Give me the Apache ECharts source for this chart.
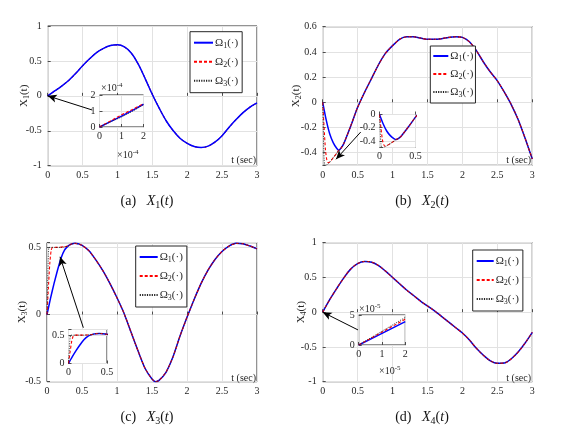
<!DOCTYPE html>
<html><head><meta charset="utf-8">
<script src="https://cdn.jsdelivr.net/npm/echarts@6/dist/echarts.min.js"></script>
<style>html,body{margin:0;padding:0;background:#fff}#c{width:582px;height:432px}</style>
</head><body><div id="c"></div>
<script>
// ---------- data ----------
const T31 = [0,0.1,0.2,0.3,0.4,0.5,0.6,0.7,0.8,0.9,1,1.1,1.2,1.3,1.4,1.5,1.6,1.7,1.8,1.9,2,2.1,2.2,2.3,2.4,2.5,2.6,2.7,2.8,2.9,3];
// X1(t): the three controllers overlap on the main scale
const X1 = [0,0.07,0.14,0.22,0.32,0.43,0.53,0.62,0.68,0.72,0.73,0.70,0.61,0.45,0.24,0.02,-0.18,-0.36,-0.50,-0.61,-0.68,-0.725,-0.74,-0.72,-0.66,-0.57,-0.45,-0.34,-0.24,-0.16,-0.10];
const X1_in_t  = [0,0.5e-4,1e-4,1.5e-4,2e-4];
const X1_in_O1 = [0,0.34e-4,0.68e-4,1.04e-4,1.42e-4];
const X1_in_O2 = [0,0.38e-4,0.76e-4,1.10e-4,1.46e-4];
const X1_in_O3 = [0,0.33e-4,0.62e-4,0.98e-4,1.40e-4];
// X2(t): different initial transients, common tail
const X2_O1_t = [0,0.05,0.1,0.15,0.2,0.23,0.26];
const X2_O1_v = [0,-0.14,-0.25,-0.32,-0.365,-0.38,-0.365];
const X2_O2_t = [0,0.02,0.04,0.06,0.08,0.1,0.15,0.2,0.23,0.26];
const X2_O2_v = [0,-0.2,-0.38,-0.46,-0.48,-0.475,-0.44,-0.405,-0.38,-0.365];
const X2_O3_t = [0,0.01,0.02,0.03,0.05,0.08,0.1,0.15,0.2,0.23,0.26];
const X2_O3_v = [0,-0.25,-0.45,-0.5,-0.5,-0.485,-0.475,-0.44,-0.405,-0.38,-0.365];
const X2_tail_t = [0.3,0.4,0.5,0.6,0.7,0.8,0.9,1,1.1,1.2,1.3,1.4,1.5,1.6,1.7,1.8,1.9,2,2.1,2.2,2.3,2.4,2.5,2.6,2.7,2.8,2.9,3];
const X2_tail_v = [-0.33,-0.19,-0.04,0.08,0.19,0.3,0.39,0.45,0.5,0.52,0.52,0.51,0.5,0.5,0.505,0.515,0.52,0.515,0.48,0.41,0.32,0.24,0.17,0.08,-0.02,-0.14,-0.29,-0.45];
// X3(t)
const X3_O1_t = [0,0.05,0.1,0.15,0.2,0.25,0.3];
const X3_O1_v = [0,0.12,0.23,0.33,0.42,0.48,0.51];
const X3_O2_t = [0,0.02,0.04,0.06,0.08,0.15,0.25,0.3];
const X3_O2_v = [0,0.2,0.38,0.48,0.5,0.5,0.505,0.51];
const X3_O3_t = [0,0.01,0.02,0.03,0.1,0.2,0.3];
const X3_O3_v = [0,0.25,0.45,0.5,0.5,0.5,0.51];
const X3_tail_t = [0.35,0.4,0.5,0.6,0.7,0.8,0.9,1,1.1,1.2,1.3,1.4,1.5,1.55,1.6,1.7,1.8,1.9,2,2.1,2.2,2.3,2.4,2.5,2.6,2.7,2.8,2.9,3];
const X3_tail_v = [0.525,0.53,0.515,0.475,0.405,0.325,0.23,0.125,0.01,-0.13,-0.27,-0.4,-0.48,-0.5,-0.49,-0.43,-0.315,-0.16,-0.02,0.11,0.23,0.33,0.41,0.47,0.51,0.53,0.527,0.51,0.49];
// X4(t)
const X4 = [0,0.18,0.34,0.49,0.62,0.70,0.73,0.72,0.67,0.59,0.50,0.41,0.32,0.24,0.16,0.09,0.02,-0.06,-0.14,-0.22,-0.30,-0.40,-0.52,-0.62,-0.70,-0.735,-0.73,-0.67,-0.57,-0.44,-0.29];
const X4_in_t  = [0,1e-5,2e-5];
const X4_in_O1 = [0,1.95e-5,3.9e-5];
const X4_in_O2 = [0,2.15e-5,4.3e-5];
const X4_in_O3 = [0,2.3e-5,4.6e-5];

const SERIES_NAMES = ['O1','O2','O3'];
const CAPTIONS = [['a','1'],['b','2'],['c','3'],['d','4']];
// arrow annotations (data coords of each main panel): [tail, head]
const ARROWS = [
  [[0.639,-0.203],[0,0]],
  [[0.544,-0.236],[0.19,-0.452]],
  [[0.519,-0.098],[0.186,0.43]],
  [[0.515,-0.26],[0,0]]
];

// ---------- helpers ----------
const pairs = (ts, vs) => ts.map((t,i)=>[t, vs[i]]);
const FONT = 'Liberation Serif';
const TXT = '#262626';
const GRIDC = '#e2e2e2';
const fmtStep = step => v => { const k=v/step; return Math.abs(k-Math.round(k))<1e-6 ? String(+v.toFixed(6)) : ''; };
const fmtScaled = (scale) => v => { const k=v*scale; return Math.abs(k-Math.round(k))<1e-6 ? String(Math.round(k)) : ''; };

const mainGrids = [
  {left:47.7, top:26, width:209.3, height:139.7},
  {left:322.7, top:26.7, width:209.6, height:138.6},
  {left:47, top:242.7, width:210, height:139},
  {left:322.7, top:242.7, width:209.6, height:139}
];
const insetGrids = [
  {left:99.5, top:95, width:44, height:32},
  {left:379.5, top:114.5, width:36, height:33},
  {left:68.5, top:329.5, width:38.5, height:34},
  {left:358.7, top:315, width:46.6, height:30}
];
const grid = mainGrids.map(g => Object.assign({show:true, borderColor:TXT, borderWidth:1, backgroundColor:'transparent', z:0, containLabel:false, outerBoundsMode:'none'}, g))
  .concat(insetGrids.map(g => Object.assign({show:true, borderColor:TXT, borderWidth:1, backgroundColor:'#fff', z:5, containLabel:false, outerBoundsMode:'none'}, g)));

function axis(gi, extra, inset){
  return Object.assign({
    type:'value', gridIndex:gi, z: inset?6:0,
    axisLine:{show:false},
    axisTick:{show:true, inside:true, length:3, lineStyle:{color:TXT, width:0.8}},
    splitLine:{show:true, lineStyle:{color:GRIDC, width:1}},
    axisLabel:{fontFamily:FONT, fontSize:10, color:TXT}
  }, extra);
}
const subRich = {s:{fontFamily:FONT, fontSize:8, lineHeight:8, padding:[6,0,0,0], color:TXT}};

const xAxis = [], yAxis = [];
for (let p=0;p<4;p++){
  xAxis.push(axis(p,{min:0,max:3,interval:0.5,axisLabel:{fontFamily:FONT,fontSize:10,color:TXT,margin:5,formatter:fmtStep(0.5)}}));
}
const yMain = [
  {min:-1,max:1,interval:0.5,f:fmtStep(0.5),gap:17},
  {min:-0.5,max:0.6,minInterval:0.2,maxInterval:0.2,f:fmtStep(0.2),gap:20},
  {min:-0.5,max:0.535,interval:0.5,f:fmtStep(0.5),gap:18},
  {min:-1,max:1,interval:0.5,f:fmtStep(0.5),gap:15}
];
yMain.forEach((y,p)=>{
  const e = {min:y.min,max:y.max,
    name:'X{s|'+(p+1)+'}(t)', nameLocation:'middle', nameRotate:90, nameGap:y.gap, nameMoveOverlap:false,
    nameTextStyle:{fontFamily:FONT,fontSize:11,color:TXT,lineHeight:14,rich:subRich},
    axisLabel:{fontFamily:FONT,fontSize:10,color:TXT,margin:6,formatter:y.f}};
  if (y.interval) e.interval=y.interval;
  if (y.minInterval){ e.minInterval=y.minInterval; e.maxInterval=y.maxInterval; }
  yAxis.push(axis(p,e));
});
// inset axes
const insX = [
  {min:0,max:2e-4,interval:1e-4,f:fmtScaled(1e4)},
  {min:0,max:0.5,interval:0.5,f:fmtStep(0.5)},
  {min:0,max:0.5,interval:0.5,f:fmtStep(0.5)},
  {min:0,max:2e-5,interval:1e-5,f:fmtScaled(1e5)}
];
const insY = [
  {min:0,max:2e-4,interval:1e-4,f:fmtScaled(1e4)},
  {min:-0.5,max:0,minInterval:0.2,maxInterval:0.2,f:fmtStep(0.2)},
  {min:0,max:0.6,interval:0.5,f:fmtStep(0.5)},
  {min:0,max:5e-5,interval:5e-5,f:fmtScaled(1e5)}
];
insX.forEach((a,p)=>{
  xAxis.push(axis(p+4,{min:a.min,max:a.max,interval:a.interval,axisLabel:{fontFamily:FONT,fontSize:10,color:TXT,margin:4,formatter:a.f}},true));
});
insY.forEach((a,p)=>{
  const e={min:a.min,max:a.max,axisLabel:{fontFamily:FONT,fontSize:10,color:TXT,margin:4,formatter:a.f}};
  if (a.interval) e.interval=a.interval;
  if (a.minInterval){ e.minInterval=a.minInterval; e.maxInterval=a.maxInterval; }
  yAxis.push(axis(p+4,e,true));
});

// ---------- series ----------
const STY = {
  O1:{color:'#0000ff', width:1.5, type:'solid'},
  O2:{color:'#ff0000', width:1.1, type:[3,2]},
  O3:{color:'#222222', width:0.8, type:[1.2,1.2]}
};
const mainData = [
  {O1:pairs(T31,X1), O2:pairs(T31,X1), O3:pairs(T31,X1)},
  {O1:pairs(X2_O1_t,X2_O1_v).concat(pairs(X2_tail_t,X2_tail_v)),
   O2:pairs(X2_O2_t,X2_O2_v).concat(pairs(X2_tail_t,X2_tail_v)),
   O3:pairs(X2_O3_t,X2_O3_v).concat(pairs(X2_tail_t,X2_tail_v))},
  {O1:pairs(X3_O1_t,X3_O1_v).concat(pairs(X3_tail_t,X3_tail_v)),
   O2:pairs(X3_O2_t,X3_O2_v).concat(pairs(X3_tail_t,X3_tail_v)),
   O3:pairs(X3_O3_t,X3_O3_v).concat(pairs(X3_tail_t,X3_tail_v))},
  {O1:pairs(T31,X4), O2:pairs(T31,X4), O3:pairs(T31,X4)}
];
const insetData = [
  {O1:pairs(X1_in_t,X1_in_O1), O2:pairs(X1_in_t,X1_in_O2), O3:pairs(X1_in_t,X1_in_O3)},
  mainData[1], mainData[2],
  {O1:pairs(X4_in_t,X4_in_O1), O2:pairs(X4_in_t,X4_in_O2), O3:pairs(X4_in_t,X4_in_O3)}
];
const series = [];
for (let p=0;p<4;p++){
  SERIES_NAMES.forEach((n,k)=>{
    const s = {type:'line', name:n, xAxisIndex:p, yAxisIndex:p, data:mainData[p][n],
      showSymbol:false, symbol:'none', smooth:(p===1||p===2)?0.2:0.35, clip:true,
      lineStyle:STY[n], itemStyle:{color:STY[n].color}, z: (p===0 && n==='O1') ? 3 : 2, animation:false};
    if (n==='O1'){
      s.markLine = {silent:true, animation:false, symbol:['none','arrow'], symbolSize:[6,9],
        lineStyle:{color:'#000', width:1, type:'solid'}, label:{show:false},
        data:[[{coord:ARROWS[p][0]},{coord:ARROWS[p][1]}]]};
    }
    series.push(s);
  });
  SERIES_NAMES.forEach(n=>{
    series.push({type:'line', name:n, xAxisIndex:p+4, yAxisIndex:p+4, data:insetData[p][n],
      showSymbol:false, symbol:'none', smooth:(p===1||p===2)?0.2:0, clip:true,
      lineStyle:STY[n], itemStyle:{color:STY[n].color}, z:7, animation:false});
  });
}

// ---------- legends ----------
const legendPos = [
  {left:190, top:31.7, itemWidth:19, itemGap:5, padding:[4,4,5,3]},
  {left:430.3, top:46, itemWidth:15, itemGap:4, padding:[3,2,4,2]},
  {left:135.7, top:246, itemWidth:18, itemGap:5, padding:[4,4,5,3]},
  {left:472.7, top:250, itemWidth:17, itemGap:5, padding:[4,4,5,3]}
];
const legend = legendPos.map(l => ({
  data:SERIES_NAMES, orient:'vertical', left:l.left, top:l.top, padding:l.padding,
  itemGap:l.itemGap, itemWidth:l.itemWidth, itemHeight:10, selectedMode:false, z:8,
  backgroundColor:'#fff', borderColor:TXT, borderWidth:1, borderRadius:0,
  itemStyle:{opacity:0, borderWidth:0},
  textStyle:{fontFamily:FONT, fontSize:11, color:TXT, lineHeight:14, padding:[0,0,0,-3], rich:subRich},
  formatter: n => '\u03A9{s|'+n.slice(1)+'}(\u00B7)'
}));

// ---------- titles (captions) ----------
const capPos = [[147,193],[422,193],[147,409],[422,409]];
const title = CAPTIONS.map((c,i)=>({
  text:'('+c[0]+')   {i|X}{c|'+c[1]+'}({i|t})',
  left:capPos[i][0], top:capPos[i][1], textAlign:'center', padding:0,
  textStyle:{fontFamily:FONT, fontSize:14, fontWeight:'normal', color:'#111', lineHeight:17,
    rich:{i:{fontFamily:FONT,fontSize:14,fontStyle:'italic',color:'#111',lineHeight:17},
          c:{fontFamily:FONT,fontSize:10,lineHeight:10,padding:[7,0,0,0],color:'#111'}}}
}));

// ---------- graphic text ----------
const tsec = [[256,160],[531,160],[256,378.5],[531,378.5]];
const graphic = tsec.map(p=>({type:'text', x:p[0], y:p[1], z:20, silent:true,
  style:{text:'t (sec)', font:'10px "Liberation Serif"', fill:TXT, align:'right', verticalAlign:'middle'}}));
const expo = [[101,88,'4'],[117,155,'4'],[359,309,'5'],[379,371.5,'5']];
expo.forEach(e=>graphic.push({type:'text', x:e[0], y:e[1], z:20, silent:true,
  style:{text:'\u00D710{u|-'+e[2]+'}', font:'10px "Liberation Serif"', fill:TXT, align:'left', verticalAlign:'middle',
    rich:{u:{fontFamily:FONT, fontSize:7, lineHeight:7, padding:[0,0,6,0], fill:TXT}}}}));

const chart = echarts.init(document.getElementById('c'), null, {renderer:'canvas'});
chart.setOption({animation:false, backgroundColor:'#fff', title, legend, grid, xAxis, yAxis, series, graphic});
</script></body></html>
